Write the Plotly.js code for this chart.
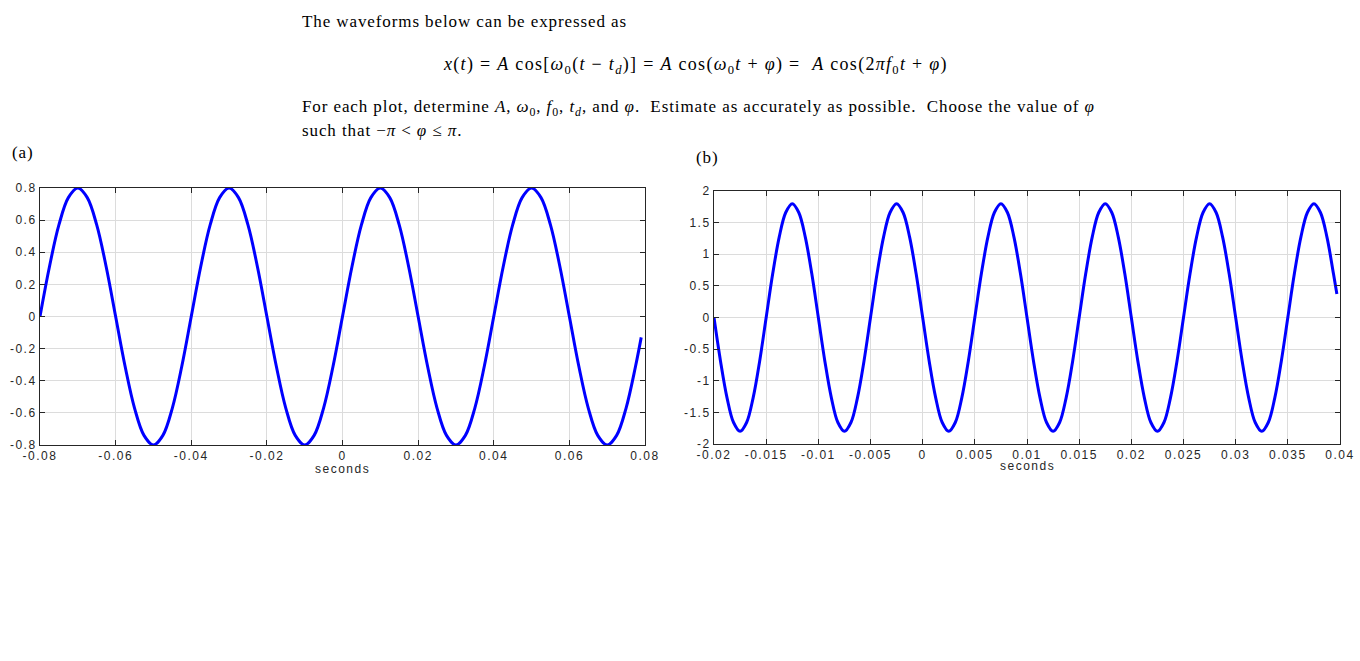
<!DOCTYPE html>
<html>
<head>
<meta charset="utf-8">
<script src="https://cdn.plot.ly/plotly-3.0.1.min.js"></script>
<style>
html,body{margin:0;padding:0;background:#fff;}
#chart{width:1360px;height:661px;}
/* the reference's text is drawn wider than the fonts available; widen with letter spacing */
text[style*="Times New Roman"]{letter-spacing:0.9px;}
text[style*="Times, serif"]{letter-spacing:1.3px;}
text[style*="Arial"]{letter-spacing:1.5px;}
</style>
</head>
<body>
<div id="chart"></div>
<script>
// ---------- Data ----------
// Panel (a): time in seconds
const tA = [-0.08,-0.0775,-0.075,-0.0725,-0.07,-0.0675,-0.065,-0.0625,-0.06,-0.0575,-0.055,-0.0525,-0.05,-0.0475,-0.045,-0.0425,
-0.04,-0.0375,-0.035,-0.0325,-0.03,-0.0275,-0.025,-0.0225,-0.02,-0.0175,-0.015,-0.0125,-0.01,-0.0075,-0.005,-0.0025,
0,0.0025,0.005,0.0075,0.01,0.0125,0.015,0.0175,0.02,0.0225,0.025,0.0275,0.03,0.0325,0.035,0.0375,
0.04,0.0425,0.045,0.0475,0.05,0.0525,0.055,0.0575,0.06,0.0625,0.065,0.0675,0.07,0.0725,0.075,0.0775,0.079];
const yA = [0,0.31,0.57,0.74,0.8,0.74,0.57,0.31,0,-0.31,-0.57,-0.74,-0.8,-0.74,-0.57,-0.31,
0,0.31,0.57,0.74,0.8,0.74,0.57,0.31,0,-0.31,-0.57,-0.74,-0.8,-0.74,-0.57,-0.31,
0,0.31,0.57,0.74,0.8,0.74,0.57,0.31,0,-0.31,-0.57,-0.74,-0.8,-0.74,-0.57,-0.31,
0,0.31,0.57,0.74,0.8,0.74,0.57,0.31,0,-0.31,-0.57,-0.74,-0.8,-0.74,-0.57,-0.31,-0.13];

// Panel (b): time in seconds
const tB = [-0.02,-0.019375,-0.01875,-0.018125,-0.0175,-0.016875,-0.01625,-0.015625,-0.015,-0.014375,-0.01375,-0.013125,-0.0125,-0.011875,-0.01125,-0.010625,
-0.01,-0.009375,-0.00875,-0.008125,-0.0075,-0.006875,-0.00625,-0.005625,-0.005,-0.004375,-0.00375,-0.003125,-0.0025,-0.001875,-0.00125,-0.000625,
0,0.000625,0.00125,0.001875,0.0025,0.003125,0.00375,0.004375,0.005,0.005625,0.00625,0.006875,0.0075,0.008125,0.00875,0.009375,
0.01,0.010625,0.01125,0.011875,0.0125,0.013125,0.01375,0.014375,0.015,0.015625,0.01625,0.016875,0.0175,0.018125,0.01875,0.019375,
0.02,0.020625,0.02125,0.021875,0.0225,0.023125,0.02375,0.024375,0.025,0.025625,0.02625,0.026875,0.0275,0.028125,0.02875,0.029375,
0.03,0.030625,0.03125,0.031875,0.0325,0.033125,0.03375,0.034375,0.035,0.035625,0.03625,0.036875,0.0375,0.038125,0.03875,0.039375,0.0397];
const yB = [0,-0.69,-1.27,-1.66,-1.8,-1.66,-1.27,-0.69,0,0.69,1.27,1.66,1.8,1.66,1.27,0.69,
0,-0.69,-1.27,-1.66,-1.8,-1.66,-1.27,-0.69,0,0.69,1.27,1.66,1.8,1.66,1.27,0.69,
0,-0.69,-1.27,-1.66,-1.8,-1.66,-1.27,-0.69,0,0.69,1.27,1.66,1.8,1.66,1.27,0.69,
0,-0.69,-1.27,-1.66,-1.8,-1.66,-1.27,-0.69,0,0.69,1.27,1.66,1.8,1.66,1.27,0.69,
0,-0.69,-1.27,-1.66,-1.8,-1.66,-1.27,-0.69,0,0.69,1.27,1.66,1.8,1.66,1.27,0.69,
0,-0.69,-1.27,-1.66,-1.8,-1.66,-1.27,-0.69,0,0.69,1.27,1.66,1.8,1.66,1.27,0.69,0.37];

// Tick values / labels
const xTickValsA = [-0.08,-0.06,-0.04,-0.02,0,0.02,0.04,0.06,0.08];
const xTickTextA = ['-0.08','-0.06','-0.04','-0.02','0','0.02','0.04','0.06','0.08'];
const yTickValsA = [-0.8,-0.6,-0.4,-0.2,0,0.2,0.4,0.6,0.8];
const yTickTextA = ['-0.8','-0.6','-0.4','-0.2','0','0.2','0.4','0.6','0.8'];
const xTickValsB = [-0.02,-0.015,-0.01,-0.005,0,0.005,0.01,0.015,0.02,0.025,0.03,0.035,0.04];
const xTickTextB = ['-0.02','-0.015','-0.01','-0.005','0','0.005','0.01','0.015','0.02','0.025','0.03','0.035','0.04'];
const yTickValsB = [-2,-1.5,-1,-0.5,0,0.5,1,1.5,2];
const yTickTextB = ['-2','-1.5','-1','-0.5','0','0.5','1','1.5','2'];

// Text
const line1 = 'The waveforms below can be expressed as';
const formula = '<i>x</i>(<i>t</i>) = <i>A</i> cos[<i>ω</i><sub>0</sub>(<i>t</i> − <i>t<sub>d</sub></i>)] = <i>A</i> cos(<i>ω</i><sub>0</sub><i>t</i> + <i>φ</i>) =  <i>A</i> cos(2<i>πf</i><sub>0</sub><i>t</i> + <i>φ</i>)';
const line3 = 'For each plot, determine <i>A</i>, <i>ω</i><sub>0</sub>, <i>f</i><sub>0</sub>, <i>t<sub>d</sub></i>, and <i>φ</i>.  Estimate as accurately as possible.  Choose the value of <i>φ</i>';
const line4 = 'such that −<i>π</i> &lt; <i>φ</i> ≤ <i>π</i>.';
const labelA = '(a)';
const labelB = '(b)';
const xTitle = 'seconds';

// ---------- Layout helpers ----------
const W = 1360, H = 661;
const px = v => v / W;
const py = v => 1 - v / H;

const tickFont = {family: 'Liberation Sans, Arial, sans-serif', size: 12, color: '#262626'};
const serif = {family: 'Liberation Serif, Times New Roman, serif', size: 17, color: '#000'};
const mathFont = {family: 'Liberation Serif, Times, serif', size: 18, color: '#000'};

function axisCommon(extra) {
  return Object.assign({
    showline: true, linecolor: '#262626', linewidth: 1, mirror: 'ticks',
    ticks: 'inside', ticklen: 5, tickcolor: '#262626', tickwidth: 1,
    showgrid: true, gridcolor: '#dcdcdc', gridwidth: 1,
    zeroline: false, tickmode: 'array', tickfont: tickFont, fixedrange: true
  }, extra);
}

const traces = [
  {x: tA, y: yA, type: 'scatter', mode: 'lines', line: {color: '#0000ff', width: 3, shape: 'spline'}, xaxis: 'x', yaxis: 'y', hoverinfo: 'skip'},
  {x: tB, y: yB, type: 'scatter', mode: 'lines', line: {color: '#0000ff', width: 3, shape: 'spline'}, xaxis: 'x2', yaxis: 'y2', hoverinfo: 'skip'}
];

const layout = {
  width: W, height: H,
  margin: {l: 0, r: 0, t: 0, b: 0},
  paper_bgcolor: '#fff', plot_bgcolor: '#fff',
  showlegend: false,
  xaxis: axisCommon({domain: [px(40), px(645)], range: [-0.08, 0.08], tickvals: xTickValsA, ticktext: xTickTextA, anchor: 'y'}),
  yaxis: axisCommon({domain: [py(445), py(188)], range: [-0.8, 0.8], tickvals: yTickValsA, ticktext: yTickTextA, anchor: 'x'}),
  xaxis2: axisCommon({domain: [px(714), px(1340)], range: [-0.02, 0.04], tickvals: xTickValsB, ticktext: xTickTextB, anchor: 'y2'}),
  yaxis2: axisCommon({domain: [py(444), py(191)], range: [-2, 2], tickvals: yTickValsB, ticktext: yTickTextB, anchor: 'x2'}),
  annotations: [
    {text: line1, x: px(300), y: py(22), xref: 'paper', yref: 'paper', xanchor: 'left', yanchor: 'middle', showarrow: false, font: serif},
    {text: formula, x: px(695), y: py(66), xref: 'paper', yref: 'paper', xanchor: 'center', yanchor: 'middle', showarrow: false, font: mathFont},
    {text: line3, x: px(300), y: py(108), xref: 'paper', yref: 'paper', xanchor: 'left', yanchor: 'middle', showarrow: false, font: serif},
    {text: line4, x: px(300), y: py(130), xref: 'paper', yref: 'paper', xanchor: 'left', yanchor: 'middle', showarrow: false, font: serif},
    {text: labelA, x: px(10), y: py(152), xref: 'paper', yref: 'paper', xanchor: 'left', yanchor: 'middle', showarrow: false, font: serif},
    {text: labelB, x: px(694), y: py(157), xref: 'paper', yref: 'paper', xanchor: 'left', yanchor: 'middle', showarrow: false, font: serif},
    {text: xTitle, x: px(342), y: py(469), xref: 'paper', yref: 'paper', xanchor: 'center', yanchor: 'middle', showarrow: false, font: tickFont},
    {text: xTitle, x: px(1027), y: py(466), xref: 'paper', yref: 'paper', xanchor: 'center', yanchor: 'middle', showarrow: false, font: tickFont}
  ]
};

Plotly.newPlot('chart', traces, layout, {displayModeBar: false, staticPlot: true});
</script>
</body>
</html>
